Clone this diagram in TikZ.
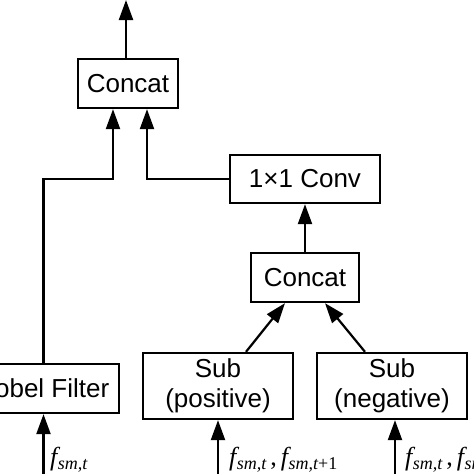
\documentclass[tikz,border=0pt]{standalone}
\usepackage{fontspec}
\setmainfont{Liberation Sans}
\newfontfamily\tms{Liberation Serif}
\usetikzlibrary{arrows.meta}
\newcommand{\fsm}[1]{{\tms\itshape f\kern0.5pt\raisebox{-4pt}{\fontsize{18}{18}\selectfont #1}}}
\newcommand{\lsep}{\kern4pt{\tms ,}\kern4pt}
\begin{document}
\begin{tikzpicture}[x=1pt,y=-1pt,
  box/.style={draw,line width=2.3pt,inner sep=0pt,font=\fontsize{26}{30}\selectfont,align=center},
  arr/.style={line width=2.2pt,-{Triangle[length=20pt,width=14pt]}},
  lbl/.style={anchor=base west,inner sep=0pt,font=\fontsize{26}{26}\selectfont}]
\useasboundingbox (0,0) rectangle (474,474);
\clip (0,0) rectangle (474,474);
\node[box,minimum width=100pt,minimum height=49pt] (cat1) at (128,83.5) {Concat};
\node[box,minimum width=150pt,minimum height=48pt] (conv) at (305,179) {1×1 Conv};
\node[box,minimum width=108pt,minimum height=49pt] (cat2) at (305,277.5) {Concat};
\node[box,minimum width=151pt,minimum height=49pt] (sobel) at (43.5,388.5) {Sobel Filter};
\node[box,minimum width=150pt,minimum height=66pt] (subp) at (218,386) {Sub\\(positive)};
\node[box,minimum width=150pt,minimum height=66pt] (subn) at (392,386) {Sub\\(negative)};
\coordinate (out) at (126,0);
\coordinate (inS) at (43.5,480);
\coordinate (inP) at (218,480);
\coordinate (inN) at (395,480);
\draw[arr] (cat1.north -| out) -- (out);
\draw[arr] (sobel.north) |- ([xshift=-15pt]cat1.south |- conv.west) -- ([xshift=-15pt]cat1.south);
\draw[arr] (conv.west) -| ([xshift=19pt]cat1.south);
\draw[arr] (cat2.north) -- (conv.south);
\draw[arr] ([xshift=28pt]subp.north) -- ([xshift=-20pt]cat2.south);
\draw[arr] ([xshift=-27pt]subn.north) -- ([xshift=20pt]cat2.south);
\draw[arr] (inS) -- (sobel.south);
\draw[arr] (inP) -- (subp.south);
\draw[arr] (inN) -- (inN |- subn.south);
\node[lbl] (l1) at (50,465) {\fsm{sm,t}};
\node[lbl] (l2) at (229,465) {\fsm{sm,t}\lsep\fsm{sm,t{\upshape +1}}};
\node[lbl] (l3) at (405,465) {\fsm{sm,t}\lsep\fsm{sm,t{\upshape -1}}};
\end{tikzpicture}
\end{document}
